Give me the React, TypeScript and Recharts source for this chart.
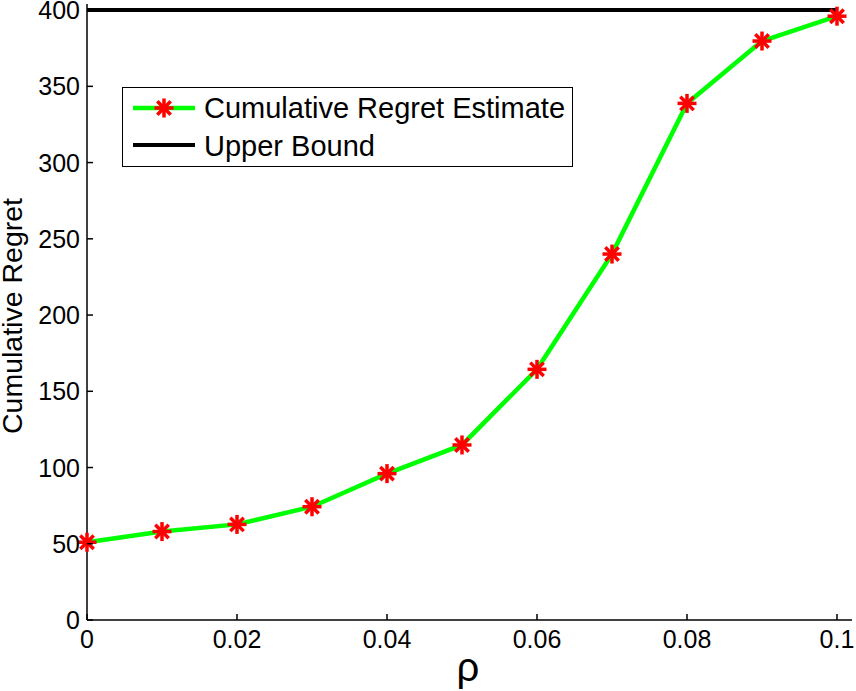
import React from 'react';
import { LineChart, Line, XAxis, YAxis, Legend } from 'recharts';

const rhoValues = [0, 0.01, 0.02, 0.03, 0.04, 0.05, 0.06, 0.07, 0.08, 0.09, 0.1];
const regretEstimate = [51, 58, 62.7, 74.3, 96, 114.8, 164.4, 240, 338.8, 379.7, 396];
const upperBound = [400, 400, 400, 400, 400, 400, 400, 400, 400, 400, 400];
const xTicks = [0, 0.02, 0.04, 0.06, 0.08, 0.1];
const yTicks = [0, 50, 100, 150, 200, 250, 300, 350, 400];
const seriesNames = ['Cumulative Regret Estimate', 'Upper Bound'];
const xLabel = 'ρ';
const yLabel = 'Cumulative Regret';

const data = rhoValues.map((rho, i) => ({ rho, regret: regretEstimate[i], upper: upperBound[i] }));

const FONT = '"Liberation Sans", Arial, sans-serif';

const Star = (props: any) => {
  const { cx, cy } = props;
  if (cx == null || cy == null) return null;
  const r = 9.5;
  const d = r * 0.7071;
  return (
    <g stroke="#ff0000" strokeWidth={3.5}>
      <line x1={cx - r} y1={cy} x2={cx + r} y2={cy} />
      <line x1={cx} y1={cy - r} x2={cx} y2={cy + r} />
      <line x1={cx - d} y1={cy - d} x2={cx + d} y2={cy + d} />
      <line x1={cx - d} y1={cy + d} x2={cx + d} y2={cy - d} />
    </g>
  );
};

const YTick = (props: any) => {
  const { x, y, payload } = props;
  return (
    <g>
      <line x1={x} y1={y} x2={x + 6} y2={y} stroke="#000" strokeWidth={1.5} />
      <text x={x - 7} y={y} textAnchor="end" dominantBaseline="central" fontFamily={FONT} fontSize={25} fill="#000">
        {payload.value}
      </text>
    </g>
  );
};

const XTick = (props: any) => {
  const { x, y, payload } = props;
  return (
    <g>
      <line x1={x} y1={y} x2={x} y2={y - 6} stroke="#000" strokeWidth={1.5} />
      <text x={x} y={y + 19} textAnchor="middle" dominantBaseline="central" fontFamily={FONT} fontSize={25} fill="#000">
        {String(payload.value)}
      </text>
    </g>
  );
};

const LegendBox = () => (
  <div style={{ width: 451, height: 80, border: '1.5px solid #000', background: '#fff', boxSizing: 'border-box' }}>
    <svg width={448} height={77} style={{ display: 'block' }}>
      <line x1={10} y1={20} x2={72} y2={20} stroke="#00ff00" strokeWidth={4.5} />
      <Star cx={41} cy={20} />
      <text x={81} y={30} fontFamily={FONT} fontSize={29} fill="#000">{seriesNames[0]}</text>
      <line x1={10} y1={57} x2={72} y2={57} stroke="#000" strokeWidth={4} />
      <text x={81} y={68} fontFamily={FONT} fontSize={29} fill="#000">{seriesNames[1]}</text>
    </svg>
  </div>
);

export default function App() {
  return (
    <div style={{ position: 'absolute', left: 0, top: 0, width: 856, height: 691, background: '#fff' }}>
      <LineChart width={856} height={691} data={data} margin={{ top: 4, right: 4, left: 0, bottom: 0 }}>
        <XAxis
          dataKey="rho"
          type="number"
          domain={[0, 0.102]}
          ticks={xTicks}
          height={71}
          tickSize={0}
          tickMargin={0}
          tickLine={false}
          tick={<XTick />}
          axisLine={{ stroke: '#000', strokeWidth: 1.5 }}
          interval={0}
          label={{
            content: () => (
              <text x={468} y={681} textAnchor="middle" fontFamily={FONT} fontSize={40} fill="#000">
                {xLabel}
              </text>
            ),
          }}
        />
        <YAxis
          type="number"
          domain={[0, 404]}
          ticks={yTicks}
          width={87}
          tickSize={0}
          tickMargin={0}
          tickLine={false}
          tick={<YTick />}
          axisLine={{ stroke: '#000', strokeWidth: 1.5 }}
          interval={0}
          label={{
            content: () => (
              <text
                x={22}
                y={316}
                transform="rotate(-90 22 316)"
                textAnchor="middle"
                fontFamily={FONT}
                fontSize={28.5}
                fill="#000"
              >
                {yLabel}
              </text>
            ),
          }}
        />
        <Legend
          layout="horizontal"
          align="center"
          verticalAlign="middle"
          content={() => <LegendBox />}
          wrapperStyle={{ position: 'absolute', left: 122, top: 87, width: 451, height: 80 }}
        />
        <Line
          dataKey="upper"
          name={seriesNames[1]}
          stroke="#000"
          strokeWidth={4}
          dot={false}
          activeDot={false}
          isAnimationActive={false}
        />
        <Line
          dataKey="regret"
          name={seriesNames[0]}
          stroke="#00ff00"
          strokeWidth={4.5}
          dot={<Star />}
          activeDot={false}
          isAnimationActive={false}
        />
      </LineChart>
    </div>
  );
}
